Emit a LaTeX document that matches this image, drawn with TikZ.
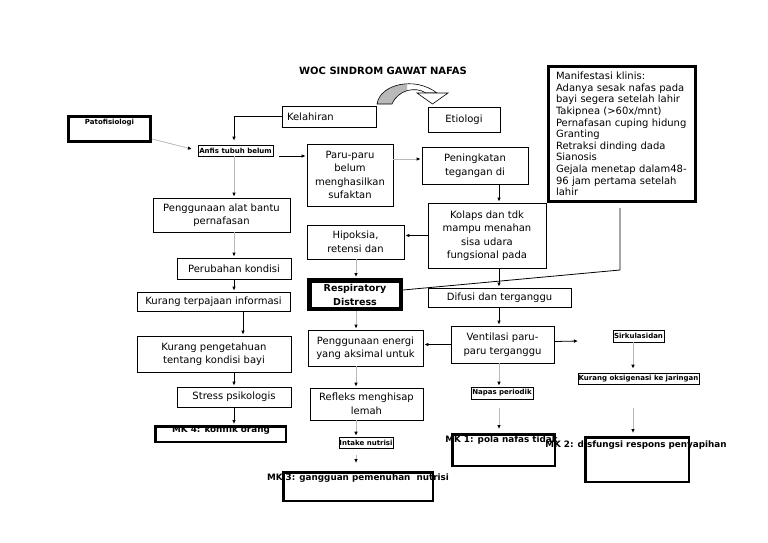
\documentclass[tikz,border=0pt]{standalone}
\usepackage{fontspec}
\setmainfont{DejaVu Sans}
\usetikzlibrary{arrows.meta,positioning,calc}

\newcommand{\wocfont}{\fontsize{10}{13.5}\selectfont}
\newcommand{\tagfont}{\fontsize{7}{8}\selectfont\bfseries}
\newcommand{\mkfont}{\fontsize{8.8}{10}\selectfont\bfseries}

\tikzset{
  wocbox/.style={draw, line width=0.8pt, align=center, inner sep=2pt, font=\wocfont},
  tagbox/.style={draw, line width=0.6pt, inner sep=0.5pt, font=\tagfont},
  heavybox/.style={draw, line width=2.5pt, inner sep=0pt},
  mklabel/.style={font=\mkfont, inner sep=0pt, anchor=base},
  link/.style={line width=0.8pt, shorten >=1pt, -{Latex[length=4pt,width=3.6pt]}},
  faint/.style={link, draw=gray!55, -{Latex[length=4pt,width=3.6pt,color=black]}},
}

\begin{document}
\begin{tikzpicture}[x=1pt, y=-1pt]
      \useasboundingbox (0,0) rectangle (768,543);

      \node[font=\fontsize{10}{12}\selectfont\bfseries] (title) at (383,71) {WOC SINDROM GAWAT NAFAS};

      \node[heavybox, line width=3pt, minimum width=82pt, inner ysep=2pt, text height=6pt, text depth=15pt, font=\tagfont] (pato) at (109.5,129) {Patofisiologi};
      \node[wocbox, text width=84pt, align=left, inner xsep=5pt, minimum height=21pt] (kel) at (329,116.5) {Kelahiran};
      \node[wocbox, minimum width=72pt, minimum height=25pt] (etio) at (464,119.5) {Etiologi};
      \node[tagbox, minimum width=75pt, minimum height=11pt] (anfis) at (235.5,150.5) {Anfis tubuh belum};

      \node[wocbox, minimum width=86pt, minimum height=62pt] (paru) at (350,175) {Paru-paru\\belum\\menghasilkan\\sufaktan};
      \node[wocbox, minimum width=106pt, minimum height=37pt] (naik) at (475,165.5) {Peningkatan\\tegangan di};
      \node[wocbox, minimum width=118pt, minimum height=65pt] (kolaps) at (487,235.5) {Kolaps dan tdk\\mampu menahan\\sisa udara\\fungsional pada};
      \node[wocbox, minimum width=97pt, minimum height=34pt] (hipoksia) at (355.5,242) {Hipoksia,\\retensi dan};
      \node[draw, line width=4.5pt, minimum width=91.5pt, minimum height=28.5pt, align=center, inner sep=0pt, font=\fontsize{9.5}{14}\selectfont\bfseries] (rds) at (355,294.5) {Respiratory\\Distress};
      \node[wocbox, minimum width=143pt, minimum height=19pt] (difusi) at (499.5,297.5) {Difusi dan terganggu};

      \node[draw, line width=3pt, text width=132pt, align=left, inner xsep=7.5pt, minimum height=135pt, font=\fontsize{10}{11.6}\selectfont] (klinis) at (622,134) {Manifestasi klinis:\\Adanya sesak nafas pada\\bayi segera setelah lahir\\Takipnea (>60x/mnt)\\Pernafasan cuping hidung\\Granting\\Retraksi dinding dada\\Sianosis\\Gejala menetap dalam48-\\96 jam pertama setelah\\lahir};

      % left column
      \node[wocbox, minimum width=137pt, minimum height=34pt] (alat) at (221.5,215) {Penggunaan alat bantu\\pernafasan};
      \node[wocbox, minimum width=114pt, minimum height=21pt] (ubah) at (234,268.5) {Perubahan kondisi};
      \node[wocbox, minimum width=153pt, minimum height=19pt] (terpajan) at (213.5,301.5) {Kurang terpajaan informasi};
      \node[wocbox, minimum width=154pt, minimum height=36pt] (tahu) at (214,354) {Kurang pengetahuan\\tentang kondisi bayi};
      \node[wocbox, minimum width=114pt, minimum height=20pt] (stres) at (234,397) {Stress psikologis};
      \node[heavybox, minimum width=130.5pt, minimum height=15.5pt] (mk4) at (220.5,434) {};
      \node[mklabel] (mk4txt) at (221,432.5) {MK 4: konflik orang};

      % middle column
      \node[wocbox, minimum width=115pt, minimum height=36pt] (energi) at (365.5,348) {Penggunaan energi\\yang aksimal untuk};
      \node[wocbox, minimum width=113pt, minimum height=32pt] (refleks) at (366.5,404) {Refleks menghisap\\lemah};
      \node[tagbox, minimum width=54pt, minimum height=11pt] (intake) at (366,442.5) {Intake nutrisi};
      \node[heavybox, minimum width=149.5pt, minimum height=28.5pt] (mk3) at (358,486.5) {};
      \node[mklabel] (mk3txt) at (358,480.5) {MK 3: gangguan pemenuhan\ \ nutrisi};

      % right columns
      \node[wocbox, minimum width=103pt, minimum height=37pt] (ventilasi) at (502.5,344.5) {Ventilasi paru-\\paru terganggu};
      \node[tagbox, minimum width=62pt, minimum height=12pt] (napas) at (502,393) {Napas periodik};
      \node[heavybox, minimum width=102.5pt, minimum height=31.5pt] (mk1) at (503.5,450) {};
      \node[mklabel] (mk1txt) at (501.5,442.5) {MK 1: pola nafas tidak};
      \node[tagbox, minimum width=51pt, minimum height=12pt] (sirk) at (638.5,336) {Sirkulasidan};
      \node[tagbox, minimum width=121pt, minimum height=11pt] (oks) at (638.5,378.5) {Kurang oksigenasi ke jaringan};
      \node[heavybox, minimum width=103.5pt, minimum height=44.5pt] (mk2) at (637,459.5) {};
      \node[mklabel] (mk2txt) at (636,447.5) {MK 2: disfungsi respons penyapihan};

      \coordinate (lspine) at (234,0);
      \coordinate (lspine2) at (243,0);
      \coordinate (mspine) at (356,0);
      \coordinate (rspine) at (499,0);
      \coordinate (sspine) at (633,0);
      \coordinate (sirkin) at (579,341);
      \coordinate (klbend) at (620,270);

      % curved arrow Kelahiran -> Etiologi
      \begin{scope}
        \clip (360,70) rectangle (407,110);
        \fill[gray!55] (377,104) .. controls (380,84) and (415,76) .. (437,93) -- (426,93) .. controls (415,86) and (398,90) .. (392,104) -- cycle;
      \end{scope}
      \draw[line width=0.6pt] (377,104) .. controls (380,84) and (415,76) .. (437,93) -- (426,93) .. controls (415,86) and (398,90) .. (392,104) -- cycle;
      \draw[line width=0.6pt, fill=white] (417,93) -- (448,93) -- (432.5,104) -- cycle;

      \draw[link, shorten >=4pt] (kel.west) -| (anfis.north -| lspine);
      \draw[faint, shorten >=6pt] ([yshift=-10pt]pato.east) -- (anfis.west);
      \draw[link, shorten <=6pt] ([yshift=-5.5pt]anfis.east) -- ([yshift=-5.5pt]anfis.east -| paru.west);
      \draw[faint] ([yshift=6.5pt]naik.west -| paru.east) -- ([yshift=6.5pt]naik.west);
      \draw[link] (naik.south -| rspine) -- (kolaps.north -| rspine);
      \draw[link] (kolaps.west) -- (kolaps.west -| hipoksia.east);
      \draw[link] (kolaps.south -| rspine) -- (difusi.north -| rspine);
      \draw[line width=0.8pt, shorten <=5pt] (klinis.south -| klbend) -- (klbend) -- ([yshift=4.5pt]rds.east);

      \draw[faint] (anfis.south -| lspine) -- (alat.north -| lspine);
      \draw[faint] (alat.south -| lspine) -- (ubah.north -| lspine);
      \draw[link] (ubah.south -| lspine) -- (terpajan.north -| lspine);
      \draw[link] (terpajan.south -| lspine2) -- (tahu.north -| lspine2);
      \draw[link] (tahu.south -| lspine) -- (stres.north -| lspine);
      \draw[link] (stres.south -| lspine) -- (mk4.north -| lspine);

      \draw[faint] (hipoksia.south -| mspine) -- (rds.north -| mspine);
      \draw[faint] (rds.south -| mspine) -- (energi.north -| mspine);
      \draw[faint] (energi.south -| mspine) -- (refleks.north -| mspine);
      \draw[faint] (refleks.south -| mspine) -- (intake.north -| mspine);
      \draw[faint, shorten <=7pt, shorten >=8pt] (intake.south -| mspine) -- (mk3.north -| mspine);

      \draw[link] (difusi.south -| rspine) -- (ventilasi.north -| rspine);
      \draw[link] (ventilasi.west) -- (ventilasi.west -| energi.east);
      \draw[link] ([yshift=3pt]ventilasi.east) -- (sirkin);
      \draw[faint] (ventilasi.south -| rspine) -- (napas.north -| rspine);
      \draw[faint, shorten <=9pt, shorten >=4pt] (napas.south -| rspine) -- (mk1.north -| rspine);
      \draw[faint, shorten >=4pt] (sirk.south -| sspine) -- (oks.north -| sspine);
      \draw[faint, shorten <=24pt, shorten >=3pt] (oks.south -| sspine) -- (mk2.north -| sspine);

    \end{tikzpicture}
\end{document}
